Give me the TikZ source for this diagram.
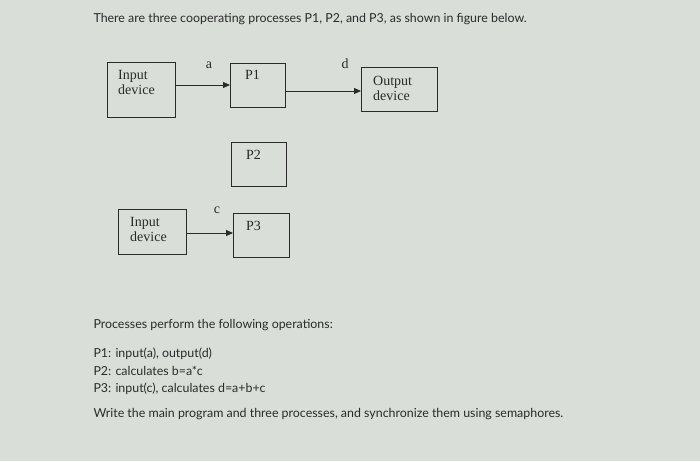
\documentclass[tikz,border=0pt]{standalone}
\usepackage{fontspec}
\setmainfont{Liberation Serif}
\newfontfamily\lato{Lato}
\usetikzlibrary{arrows.meta}
\definecolor{bg}{HTML}{D9DED9}
\definecolor{txt}{HTML}{2A2A2A}
\begin{document}
\begin{tikzpicture}[x=1pt,y=-1pt,
  box/.style={draw=txt,line width=1pt,inner sep=0pt,anchor=north west},
  btxt/.style={anchor=north west,font=\fontsize{14}{15}\selectfont,text=txt,align=left,inner sep=0pt},
  conn/.style={draw=txt,line width=1pt,-{Triangle[length=7pt,width=6pt]}},
  lbl/.style={font=\fontsize{14}{14}\selectfont,text=txt},
  body/.style={anchor=west,font=\lato\fontsize{12.4}{13}\selectfont,text=txt}]
\fill[bg] (0,0) rectangle (700,461);
\useasboundingbox (0,0) rectangle (700,461);
\node[box,minimum width=68pt,minimum height=55pt] (in1) at (107,62) {};
\node[btxt] at (118,70) {Input\\device};
\node[box,minimum width=55pt,minimum height=44pt] (p1) at (230,63) {};
\node[btxt] at (245,70) {P1};
\node[box,minimum width=76pt,minimum height=44pt] (out) at (361,67) {};
\node[btxt] at (373,76) {Output\\device};
\node[box,minimum width=55pt,minimum height=44pt] (p2) at (231,142) {};
\node[btxt] at (246,150) {P2};
\node[box,minimum width=68pt,minimum height=45pt] (in2) at (118,209) {};
\node[btxt] at (130,217) {Input\\device};
\node[box,minimum width=56pt,minimum height=44pt] (p3) at (233,213) {};
\node[btxt] at (246,221) {P3};
\coordinate (a1) at (175,85); \coordinate (a2) at (230,85);
\draw[conn] (a1) -- (a2);
\coordinate (d1) at (285,91); \coordinate (d2) at (361,91);
\draw[conn] (d1) -- (d2);
\coordinate (c1) at (186,233); \coordinate (c2) at (233,233);
\draw[conn] (c1) -- (c2);
\node[lbl] at (209,65) {a};
\node[lbl] at (345,64) {d};
\node[lbl] at (217,210) {c};
\node[body] at (90,19) {There are three cooperating processes P1, P2, and P3, as shown in figure below.};
\node[body] at (90,325) {Processes perform the following operations:};
\node[body] at (90,354) {P1: input(a), output(d)};
\node[body] at (90,371) {P2: calculates b=a*c};
\node[body] at (90,389) {P3: input(c), calculates d=a+b+c};
\node[body] at (90,414) {Write the main program and three processes, and synchronize them using semaphores.};
\end{tikzpicture}
\end{document}
